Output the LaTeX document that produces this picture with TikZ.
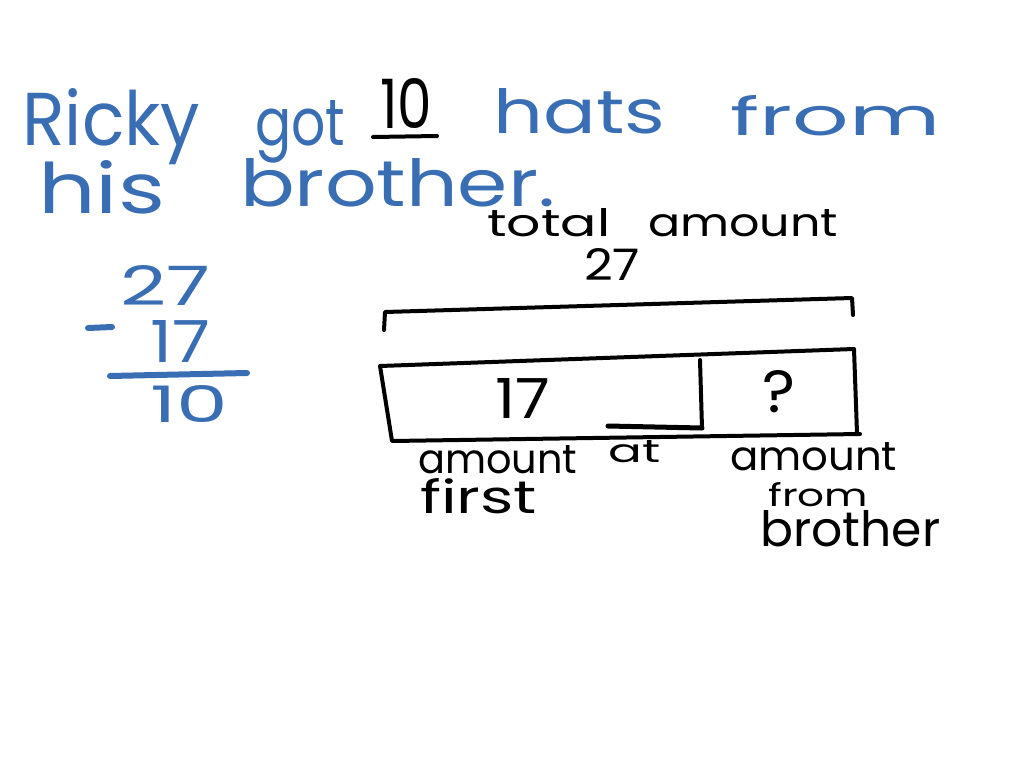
\documentclass[tikz,border=0pt]{standalone}
\usepackage{fontspec}
\setmainfont{Poppins}
\usepackage{graphicx}
\definecolor{pen}{HTML}{3A6EB4}
\newcommand\fb[3]{\resizebox{#1pt}{#2pt}{#3}}
\tikzset{
  word/.style={inner sep=0pt, anchor=base west, font=\fontsize{40}{40}\selectfont},
  blueword/.style={word, text=pen},
  blackword/.style={word, text=black},
  ink/.style={line width=4pt, line cap=round, line join=round, draw=black},
  blueink/.style={line width=6pt, line cap=round, draw=pen},
}
\begin{document}
\begin{tikzpicture}[x=1pt,y=-1pt]
\useasboundingbox[fill=white] (0,0) rectangle (1024,768);
% sentence
\node[blueword] (ricky) at (22,145) {\fb{178}{57}{Ricky}};
\node[blueword] (got) at (255,145) {\fb{90}{45}{got}};
\node[blackword] (ten) at (380,128) {\fb{52}{50}{10}};
\draw[ink] (373,137) -- (437,136);
\node[blueword] (hats) at (493,133) {\fb{172}{45}{hats}};
\node[blueword] (from) at (730,135) {\fb{210}{40}{from}};
\node[blueword] (his) at (38,213) {\fb{127}{53}{his}};
\node[blueword] (brother) at (240,206) {\fb{315}{48}{brother.}};
% labels
\node[blackword] (total) at (487,236) {\fb{123}{28}{total}};
\node[blackword] (amount) at (648,236) {\fb{190}{27}{amount}};
\node[blackword] (tot) at (584,280) {\fb{56}{32}{27}};
% bracket
\draw[ink] (384,330) -- (385,312) -- (852,298) -- (853,315);
% tape box
\coordinate (tl) at (380,366);
\coordinate (tr) at (854,349);
\coordinate (br) at (860,434);
\coordinate (bl) at (392,441);
\draw[ink] (tl) -- (tr) -- (857,433) (br) -- (bl) -- (tl);
\draw[ink] (700,360) -- (702,428);
\draw[ink, line width=5pt] (608,426) -- (702,428);
\node[blackword] (first17) at (495,418) {\fb{55}{40}{17}};
\node[blackword] (q) at (762,412) {\fb{33}{42}{?}};
\node[blackword] (am1) at (418,473) {\fb{159}{28}{amount}};
\node[blackword] (at) at (608,462) {\fb{52}{22}{at}};
\node[blackword] (first) at (420,513) {\fb{117}{35}{first}};
\node[blackword] (am2) at (730,470) {\fb{167}{28}{amount}};
\node[blackword] (fr2) at (768,506) {\fb{100}{24}{from}};
\node[blackword] (bro2) at (760,546) {\fb{180}{36}{brother}};
% subtraction
\node[blueword] (s27) at (120,305) {\fb{90}{40}{27}};
\draw[blueink] (88,328) -- (112,327);
\node[blueword] (s17) at (150,362) {\fb{60}{42}{17}};
\draw[blueink] (110,376) -- (247,373);
\node[blueword] (s10) at (150,422) {\fb{78}{37}{10}};
\end{tikzpicture}
\end{document}
